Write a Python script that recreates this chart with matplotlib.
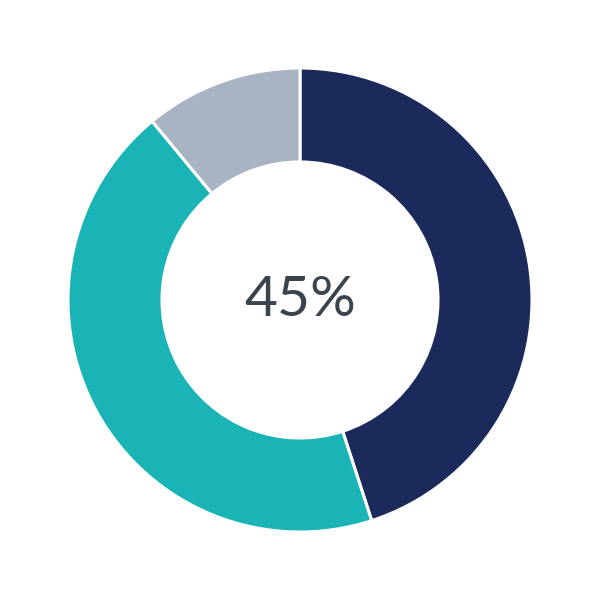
import matplotlib.pyplot as plt

labels = ["Navy", "Teal", "Gray"]
values = [45, 44, 11]
colors = ["#1b2a5b", "#1ab4b6", "#a8b3c3"]
center_label = "45%"

fig = plt.figure(figsize=(6, 6), dpi=100)
ax = fig.add_axes([0, 0, 1, 1])

ax.pie(values, colors=colors, startangle=90, counterclock=False,
       radius=1.0, wedgeprops=dict(width=0.405, edgecolor="white", linewidth=2.2))

ax.text(0, 0, center_label, ha="center", va="center", fontsize=41,
        family=["Lato", "DejaVu Sans"], color="#3b444d")

lim = 300 / 232
ax.set_xlim(-lim, lim)
ax.set_ylim(-lim, lim)
ax.set_aspect("equal")
ax.axis("off")

fig.savefig("out.png", dpi=100, facecolor="white")
